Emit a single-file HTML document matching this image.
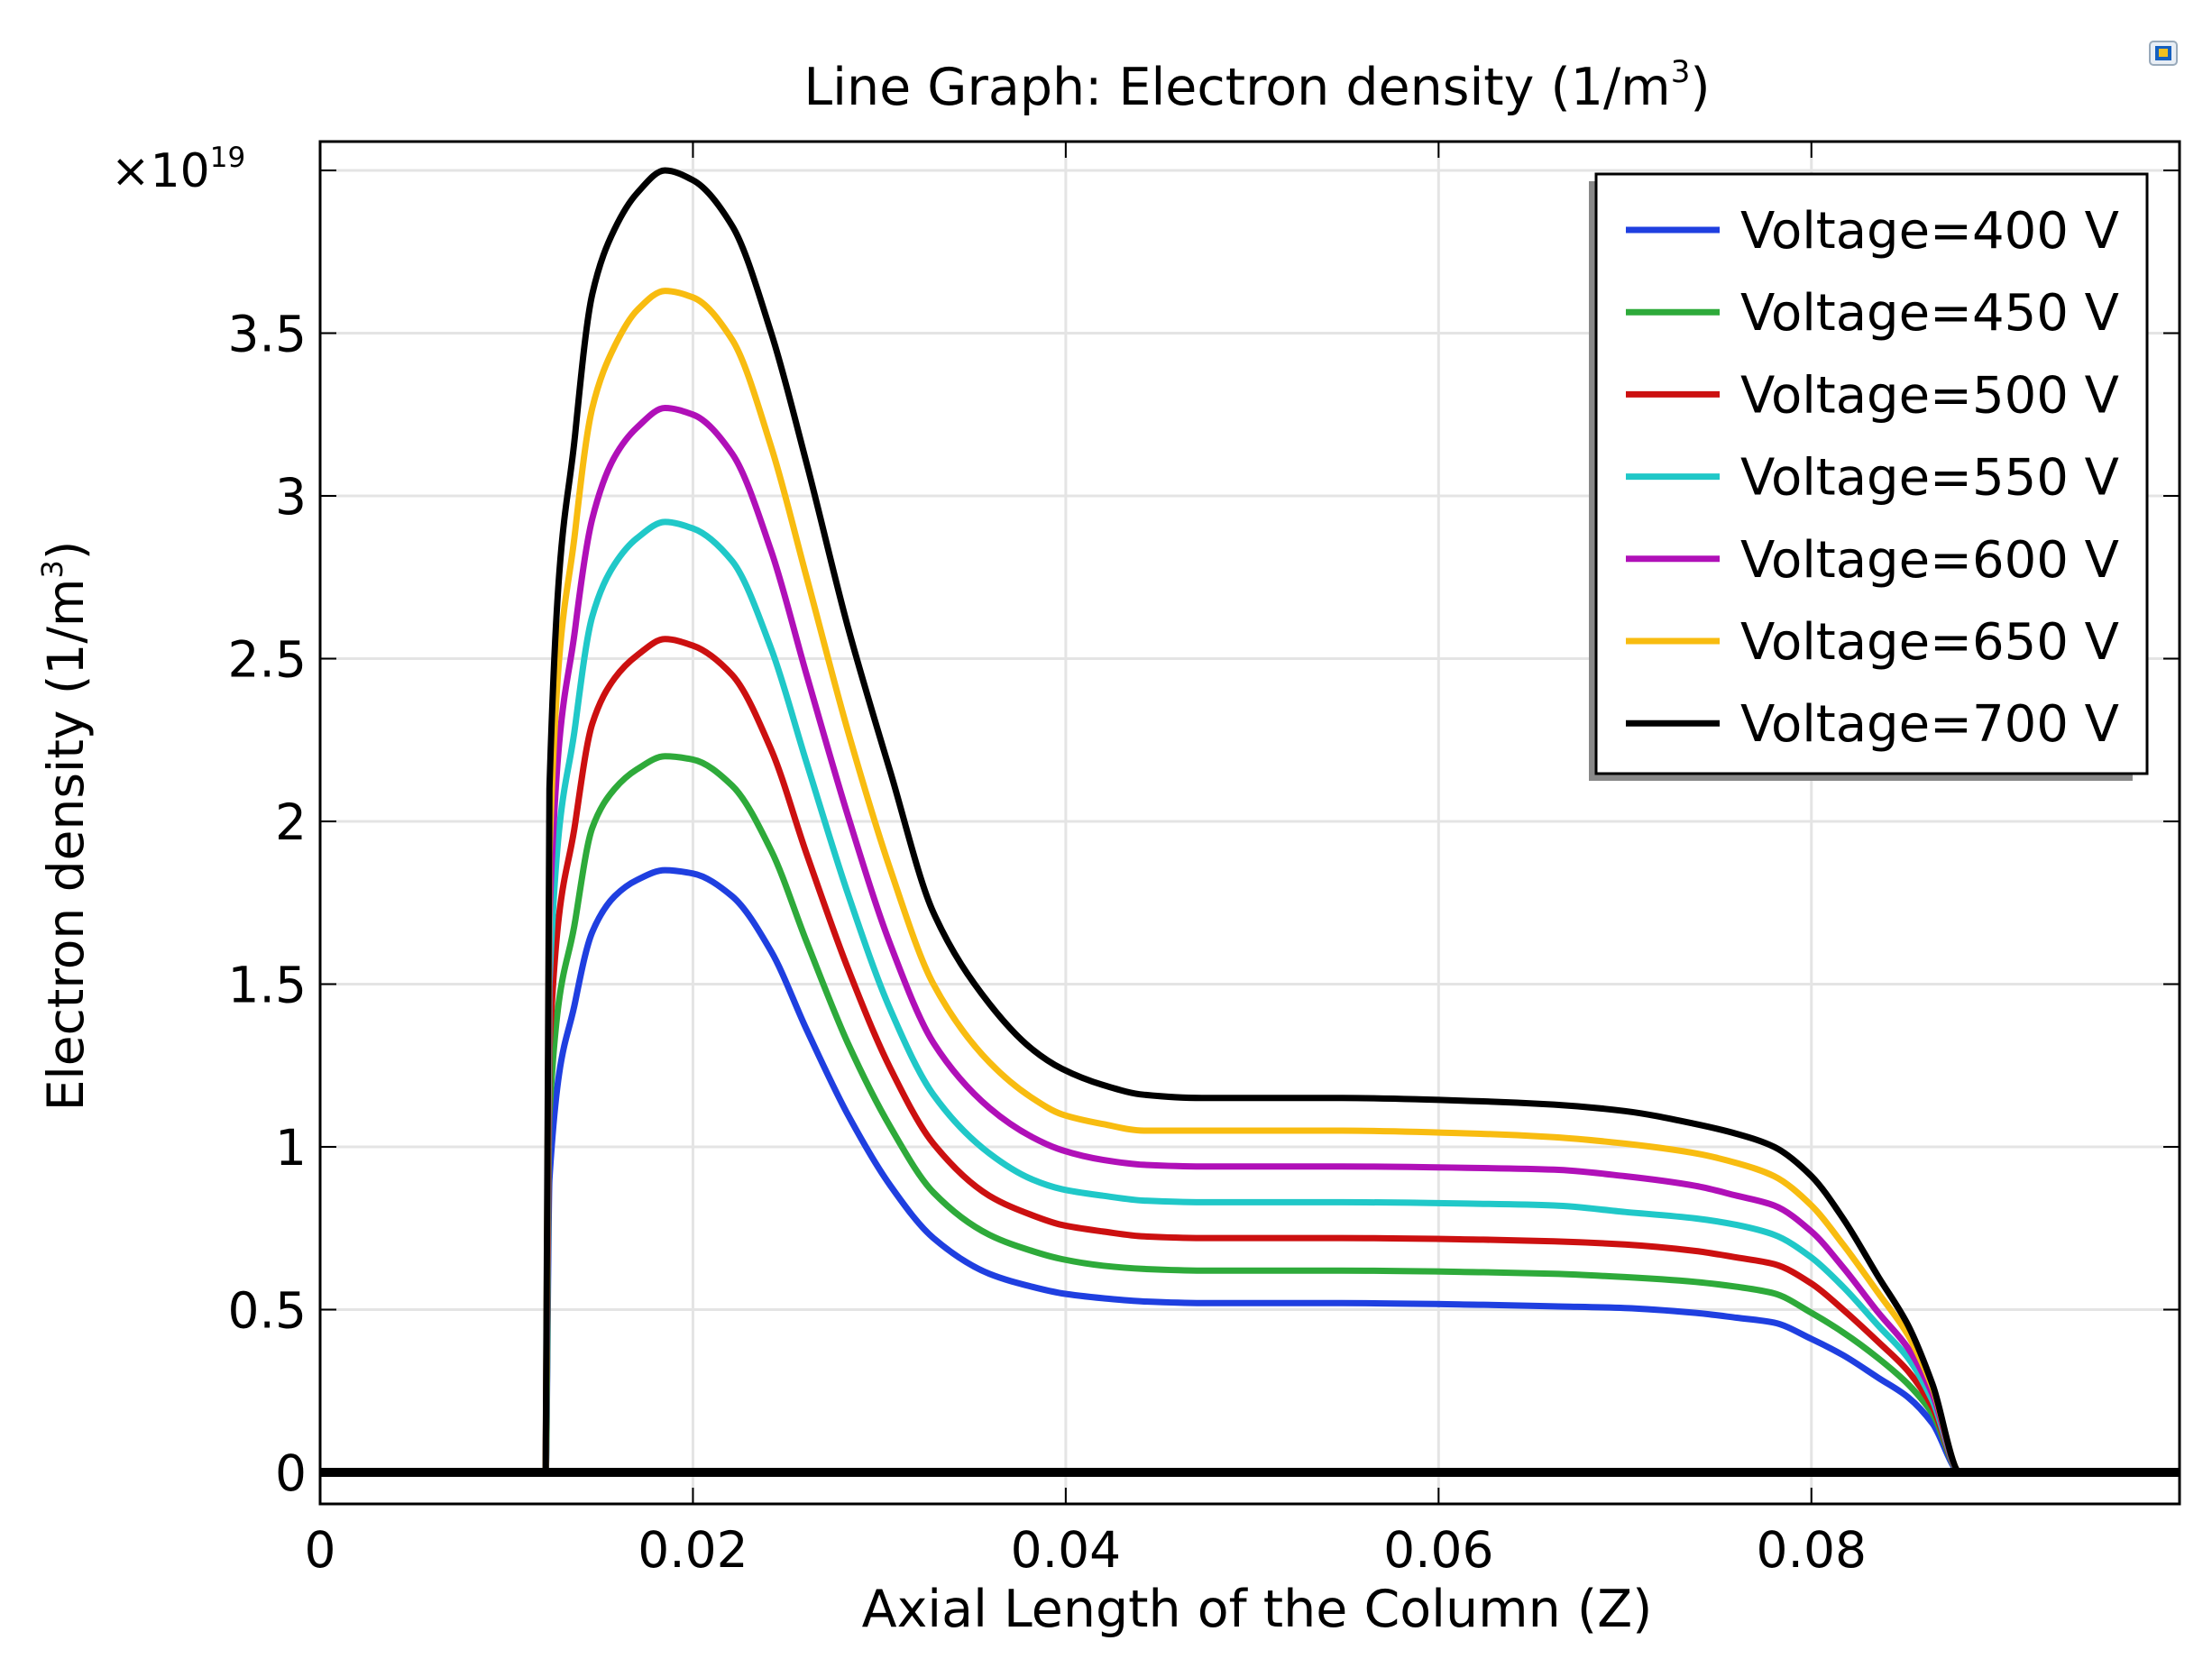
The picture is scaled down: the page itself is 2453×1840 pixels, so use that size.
<!DOCTYPE html>
<html><head><meta charset="utf-8"><style>
html,body{margin:0;padding:0;background:#fff;}
svg{display:block;font-family:"DejaVu Sans","Liberation Sans",sans-serif;}
</style></head><body>
<svg id="chart" width="2453" height="1840" viewBox="0 0 2453 1840">
<rect x="0" y="0" width="2453" height="1840" fill="#fff"/>
<g><rect x="2384" y="46" width="30" height="26" rx="4" fill="#e8eef5" stroke="#9ab" stroke-width="2"/><rect x="2390" y="51" width="18" height="16" fill="#1560c0"/><rect x="2394" y="54" width="10" height="9" fill="#f0c020"/></g>
<text x="1394" y="116" font-size="57" text-anchor="middle">Line Graph: Electron density (1/m<tspan font-size="34" dy="-25">3</tspan><tspan dy="25">)</tspan></text>
<g id="grid"></g>
<g id="series"></g>
<rect x="355" y="157" width="2062" height="1511" fill="none" stroke="#000" stroke-width="3"/>
<g id="axes"></g>
<text x="123" y="207" font-size="52">×10<tspan font-size="31" dy="-22">19</tspan></text>
<text transform="translate(92,916) rotate(-90)" font-size="55" text-anchor="middle">Electron density (1/m<tspan font-size="32" dy="-23">3</tspan><tspan dy="23">)</tspan></text>
<text x="1394" y="1804" font-size="57" text-anchor="middle">Axial Length of the Column (Z)</text>
<g id="legend"></g>
</svg>
<script>
const xValues = [0,0.0121,0.0123,0.0137,0.0146,0.0158,0.017,0.0185,0.02,0.0221,0.0242,0.0261,0.0283,0.0306,0.0329,0.0359,0.0382,0.0398,0.042,0.0442,0.0473,0.0548,0.0624,0.0662,0.07,0.0738,0.076,0.078,0.08,0.0817,0.0836,0.0852,0.0865,0.088,0.0995];
const seriesLabels = ["Voltage=400 V","Voltage=450 V","Voltage=500 V","Voltage=550 V","Voltage=600 V","Voltage=650 V","Voltage=700 V"];
const seriesColors = ["#1f3fe0","#2eaa3a","#cc1010","#20c8c8","#b010b8","#f8bc10","#000000"];
const v400 = [0,0,0.9,1.45,1.66,1.77,1.82,1.85,1.84,1.77,1.6,1.36,1.1,0.88,0.72,0.61,0.57,0.55,0.535,0.525,0.52,0.52,0.515,0.51,0.505,0.49,0.475,0.46,0.41,0.36,0.29,0.23,0.15,0,0];
const v450 = [0,0,1.1,1.7,1.98,2.1,2.16,2.2,2.19,2.11,1.91,1.63,1.32,1.06,0.86,0.73,0.68,0.655,0.635,0.625,0.62,0.62,0.615,0.61,0.6,0.585,0.57,0.55,0.49,0.43,0.35,0.27,0.18,0,0];
const v500 = [0,0,1.3,2.0,2.3,2.44,2.51,2.56,2.54,2.45,2.22,1.9,1.55,1.24,1.01,0.85,0.79,0.76,0.74,0.725,0.72,0.72,0.715,0.71,0.7,0.68,0.66,0.64,0.58,0.5,0.4,0.31,0.2,0,0];
const v550 = [0,0,1.5,2.3,2.63,2.79,2.87,2.92,2.9,2.8,2.53,2.18,1.78,1.42,1.16,0.98,0.9,0.87,0.85,0.835,0.83,0.83,0.825,0.82,0.8,0.78,0.76,0.73,0.66,0.57,0.45,0.35,0.22,0,0];
const v600 = [0,0,1.7,2.6,2.93,3.12,3.21,3.27,3.25,3.13,2.83,2.45,2.02,1.62,1.32,1.12,1.03,0.99,0.96,0.945,0.94,0.94,0.935,0.93,0.91,0.88,0.85,0.82,0.74,0.63,0.49,0.38,0.24,0,0];
const v650 = [0,0,1.9,2.9,3.27,3.46,3.57,3.63,3.61,3.48,3.15,2.75,2.28,1.85,1.5,1.26,1.15,1.1,1.07,1.05,1.05,1.05,1.04,1.03,1.01,0.98,0.95,0.91,0.82,0.7,0.55,0.42,0.26,0,0];
const v700 = [0,0,2.1,3.2,3.62,3.82,3.93,4.0,3.97,3.83,3.5,3.1,2.6,2.15,1.72,1.44,1.3,1.24,1.19,1.16,1.15,1.15,1.14,1.13,1.11,1.07,1.04,1.0,0.91,0.78,0.6,0.45,0.27,0,0];
const seriesValues = [v400,v450,v500,v550,v600,v650,v700];
const xTicks = [0,0.02,0.04,0.06,0.08];
const xTickLabels = ["0","0.02","0.04","0.06","0.08"];
const yTicks = [0,0.5,1,1.5,2,2.5,3,3.5,4];
const yTickLabels = ["0","0.5","1","1.5","2","2.5","3","3.5",""];

const NS="http://www.w3.org/2000/svg";
const PL=355, PR=2417, PT=157, PB=1668;
const X0=355, XS=20672;
const Y0=1633, YS=361;
function sx(v){return X0+v*XS;}
function sy(v){return Y0-v*YS;}
function mk(tag,attrs,parent){const e=document.createElementNS(NS,tag);for(const k in attrs)e.setAttribute(k,attrs[k]);parent.appendChild(e);return e;}

// monotone cubic path (Fritsch-Carlson) through screen points
function monoPath(px,py){
  const n=px.length, d=[], m=[];
  for(let i=0;i<n-1;i++) d.push((py[i+1]-py[i])/(px[i+1]-px[i]));
  m[0]=d[0]; m[n-1]=d[n-2];
  for(let i=1;i<n-1;i++){
    if(d[i-1]*d[i]<=0) m[i]=0;
    else { const w1=2*(px[i+1]-px[i])+(px[i]-px[i-1]), w2=(px[i+1]-px[i])+2*(px[i]-px[i-1]);
      m[i]=(w1+w2)/(w1/d[i-1]+w2/d[i]); }
  }
  let s='M'+px[0].toFixed(1)+','+py[0].toFixed(1);
  for(let i=0;i<n-1;i++){
    const h=(px[i+1]-px[i])/3;
    s+=' C'+(px[i]+h).toFixed(1)+','+(py[i]+m[i]*h).toFixed(1)+' '+(px[i+1]-h).toFixed(1)+','+(py[i+1]-m[i+1]*h).toFixed(1)+' '+px[i+1].toFixed(1)+','+py[i+1].toFixed(1);
  }
  return s;
}

const grid=document.getElementById('grid');
const axes=document.getElementById('axes');
xTicks.forEach((t,i)=>{
  const x=sx(t);
  if(t>0){const g=mk('line',{x1:x,x2:x,y1:PT,y2:PB,stroke:'#e4e4e4','stroke-width':3},grid);
  
  }
  const a=mk('line',{x1:x,x2:x,y1:PB,y2:PB-18,stroke:'#000','stroke-width':2},axes);
  
  
  const b=mk('line',{x1:x,x2:x,y1:PT,y2:PT+18,stroke:'#000','stroke-width':2},axes);
  
  
  const tx=mk('text',{x:x,y:1738,'font-size':55,'text-anchor':'middle'},axes);
  tx.textContent=xTickLabels[i];
  
  
});
yTicks.forEach((t,i)=>{
  const y=sy(t);
  const g=mk('line',{x1:PL,x2:PR,y1:y,y2:y,stroke:'#e4e4e4','stroke-width':3},grid);
  
  
  const a=mk('line',{x1:PL,x2:PL+18,y1:y,y2:y,stroke:'#000','stroke-width':2},axes);
  
  
  const b=mk('line',{x1:PR,x2:PR-18,y1:y,y2:y,stroke:'#000','stroke-width':2},axes);
  
  
  const tx=mk('text',{x:340,y:y+20,'font-size':55,'text-anchor':'end'},axes);
  tx.textContent=yTickLabels[i];
  
  
});

const sg=document.getElementById('series');
seriesValues.forEach((vals,si)=>{
  const px=xValues.map(sx), py=vals.map(sy);
  const p=mk('path',{d:monoPath(px,py),fill:'none',stroke:seriesColors[si],'stroke-width':7,'stroke-linejoin':'round'},sg);
  
  
});
const zl=mk('line',{x1:PL,x2:PR,y1:sy(0),y2:sy(0),stroke:'#000','stroke-width':10},sg);



const lg=document.getElementById('legend');
const sh=mk('rect',{x:1762,y:201,width:603,height:665,fill:'#888'},lg);


const bx=mk('rect',{x:1770,y:193,width:611,height:665,fill:'#fff',stroke:'#000','stroke-width':3},lg);


seriesLabels.forEach((lab,i)=>{
  const y=255+i*91.2;
  const l=mk('line',{x1:1803,x2:1907,y1:y,y2:y,stroke:seriesColors[i],'stroke-width':7},lg);
  
  
  const t=mk('text',{x:1930,y:y+20,'font-size':56},lg);
  t.textContent=lab;
  
  
});
</script>
</body></html>
